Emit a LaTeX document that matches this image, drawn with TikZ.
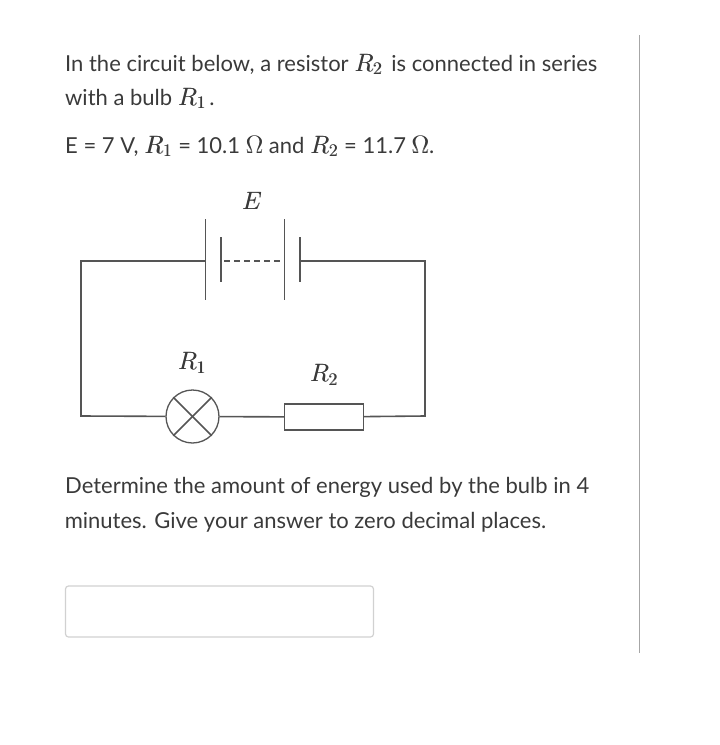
\documentclass[tikz,border=0pt]{standalone}
\usepackage{fix-cm}
\usepackage{fontspec}
\setmainfont{Lato}
\usetikzlibrary{calc}
\definecolor{textgray}{HTML}{3A3A3A}
\definecolor{wiregray}{HTML}{555555}
\def\heavy#1{\rlap{$#1$}\kern0.55pt$#1$}
\def\varR#1{\scalebox{1.14}{\heavy{R_{#1}}}}
\def\varE{\scalebox{1.14}{\heavy{E}}}
\def\ohm{\scalebox{1.15}{\heavy{\Omega}}}
\tikzset{
	textline/.style={anchor=base west, inner sep=0pt, text=textgray, font=\fontsize{22}{26}\selectfont},
	label/.style={inner sep=0pt, text=textgray, font=\fontsize{22}{26}\selectfont},
	wire/.style={line width=1.6pt, color=wiregray},
	part/.style={draw=wiregray, line width=1.3pt, fill=white, inner sep=0pt},
}

\begin{document}
\begin{tikzpicture}[x=1pt, y=-1pt]
		%%%%% START %%%%%
		\useasboundingbox (0, 0) rectangle (720, 745);
		
		\node[textline] (lineA) at (65, 71) {In the circuit below, a resistor \varR{2}\kern3pt{} is connected in series};
		\node[textline] (lineB) at (65, 105) {with a bulb \varR{1}\kern3pt.};
		\node[textline] (lineC) at (65, 153) {E = 7 V, \varR{1} = 10.1 \ohm{} and \varR{2} = 11.7 \ohm.};
		\node[textline] (lineD) at (65, 493) {Determine the amount of energy used by the bulb in 4};
		\node[textline] (lineE) at (65, 528) {\kern-0.4pt minutes. Give your answer to zero decimal places.};
		
		\coordinate (topleft) at (81, 261);
		\coordinate (topright) at (425, 261);
		\coordinate (botleft) at (81, 416);
		\coordinate (botright) at (425, 416);
		\coordinate (plateA) at (205.5, 261);
		\coordinate (plateB) at (221, 261);
		\coordinate (plateC) at (284.5, 261);
		\coordinate (plateD) at (300, 261);
		
		\node[part, circle, minimum size=53pt] (bulb) at (192.5, 416.5) {};
		\node[part, minimum width=78.5pt, minimum height=26pt] (resistor) at (324, 417) {};
		
		\draw[wire] (plateA) -- (topleft) -- (botleft) -- (bulb);
		\draw[wire] (bulb) -- (resistor);
		\draw[wire] (resistor) -- (botright) -- (topright) -- (plateD);
		\draw[wire] (bulb.north west) -- (bulb.south east);
		\draw[wire] (bulb.north east) -- (bulb.south west);
		
		\draw[wire] ($(plateA)+(0, -42)$) -- ($(plateA)+(0, 39)$);
		\draw[wire] ($(plateB)+(0, -24)$) -- ($(plateB)+(0, 21)$);
		\draw[wire] ($(plateC)+(0, -42)$) -- ($(plateC)+(0, 39)$);
		\draw[wire] ($(plateD)+(0, -24)$) -- ($(plateD)+(0, 21)$);
		\draw[wire, dash pattern=on 6pt off 4pt, dash phase=-3pt] (plateB) -- (plateC);
		
		\node[label] (emf) at (252, 201) {\varE};
		\node[label] (labelA) at (192, 363) {\varR{1}};
		\node[label] (labelB) at (324, 375) {\varR{2}};
		
		\node[draw=black!18, line width=1.2pt, rounded corners=3pt, minimum width=308pt, minimum height=51pt, inner sep=0pt] (answer) at (219.5, 611.5) {};
		
		\coordinate (ruletop) at (639.5, 35);
		\coordinate (rulebot) at (639.5, 653);
		\draw[line width=1.2pt, color=black!35] (ruletop) -- (rulebot);
		
		%%%%% END %%%%%
	\end{tikzpicture}
\end{document}
